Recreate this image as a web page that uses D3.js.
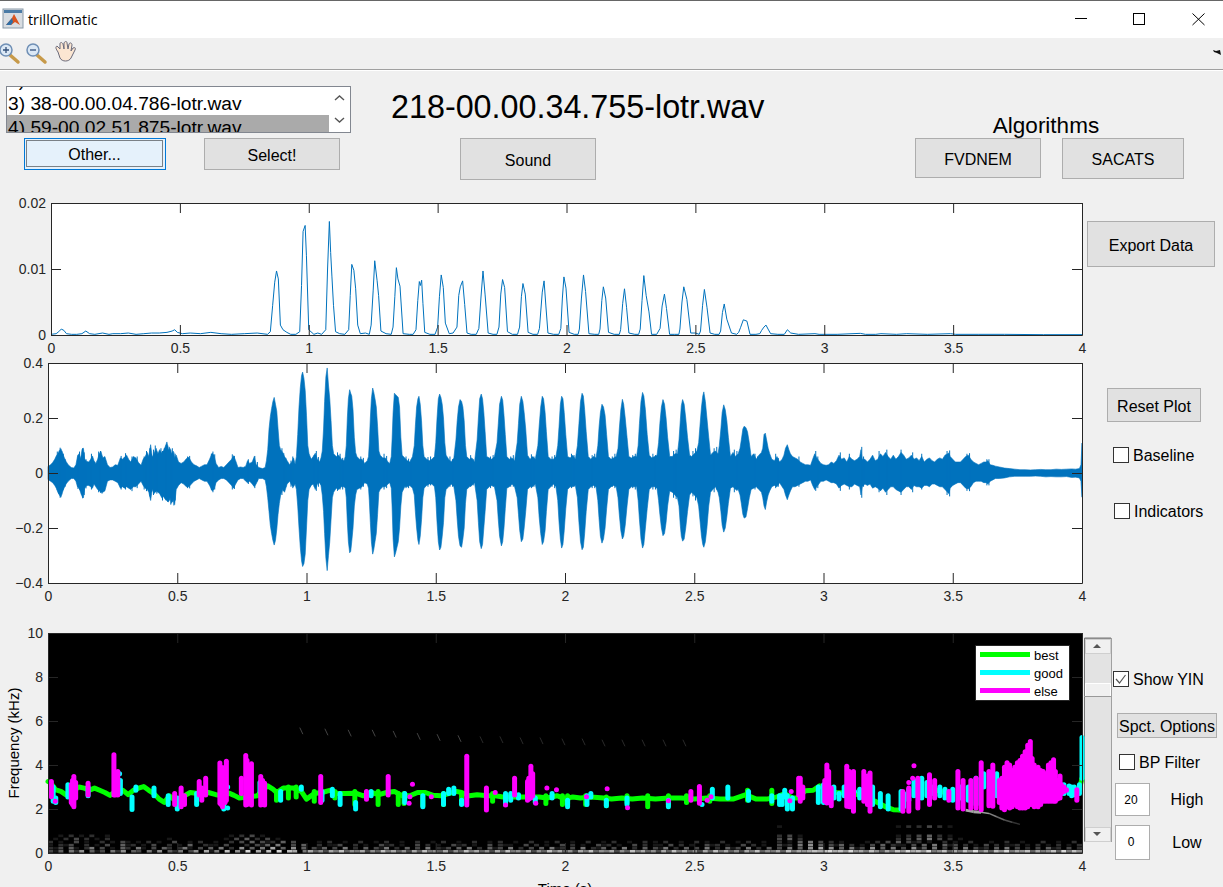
<!DOCTYPE html>
<html>
<head>
<meta charset="utf-8">
<title>trillOmatic</title>
<script src="https://cdnjs.cloudflare.com/ajax/libs/d3/7.8.5/d3.min.js"></script>
<style>
html, body { margin: 0; padding: 0; background: #f0f0f0; overflow: hidden; }
text { font-family: "Liberation Sans", Arial, sans-serif; fill: #000; }
.axis text { fill: #262626; font-family: "Liberation Sans", Arial, sans-serif; font-size: 14px; }
.axis path, .axis line { stroke: #262626; stroke-width: 1; }
</style>
</head>
<body>
<script>
// --- values ---

var timeTicks = [0, 0.5, 1, 1.5, 2, 2.5, 3, 3.5, 4];
var energyTicks = [0, 0.01, 0.02];
var waveTicks = [-0.4, -0.2, 0, 0.2, 0.4];
var freqTicks = [0, 2, 4, 6, 8, 10];

// top panel: signal energy
var energyT = [
  0, .02, .03, .04, .05, .06, .08, .1, .12, .135, .15, .17, .2, .225, .24, .27, .3, .33, .36, .39, .42, .45, .47, .48, .49, .51, .54, .58, .62, .66, .7, .75, .8, .84,
  .851, .86, .868, .875, .882, .89, .9, .915, .93, .95,
  .965, .972, .978, .986, .991, 1, 1.02, 1.035, 1.05,
  1.066, 1.073, 1.08, 1.085, 1.09, 1.096, 1.104, 1.12, 1.14,
  1.155, 1.161, 1.167, 1.175, 1.182, 1.19, 1.2, 1.22, 1.235,
  1.242, 1.25, 1.256, 1.265, 1.271, 1.28, 1.3, 1.32,
  1.327, 1.334, 1.34, 1.346, 1.354, 1.366, 1.39, 1.405,
  1.416, 1.423, 1.429, 1.433, 1.438, 1.443, 1.45, 1.47, 1.49,
  1.5, 1.507, 1.514, 1.522, 1.53, 1.545, 1.56,
  1.575, 1.582, 1.588, 1.597, 1.605, 1.614, 1.63, 1.65,
  1.66, 1.668, 1.676, 1.684, 1.696, 1.715, 1.73,
  1.738, 1.745, 1.752, 1.76, 1.771, 1.79, 1.81,
  1.818, 1.825, 1.831, 1.84, 1.851, 1.87, 1.888,
  1.895, 1.906, 1.913, 1.92, 1.928, 1.95, 1.97,
  1.978, 1.984, 1.99, 1.998, 2.01, 2.03, 2.045,
  2.05, 2.058, 2.066, 2.074, 2.087, 2.11, 2.125,
  2.13, 2.137, 2.143, 2.152, 2.163, 2.185, 2.205,
  2.21, 2.218, 2.225, 2.233, 2.242, 2.265, 2.28,
  2.286, 2.293, 2.3, 2.309, 2.32, 2.33, 2.35,
  2.363, 2.371, 2.38, 2.388, 2.4, 2.42, 2.436,
  2.44, 2.448, 2.455, 2.467, 2.482, 2.5, 2.515,
  2.52, 2.528, 2.535, 2.545, 2.557, 2.575, 2.592,
  2.598, 2.605, 2.612, 2.622, 2.64, 2.66, 2.668,
  2.675, 2.686, 2.7, 2.712, 2.735, 2.75,
  2.757, 2.766, 2.774, 2.782, 2.792, 2.82, 2.845,
  2.857, 2.87, 2.9, 2.964, 2.98, 3.05, 3.14, 3.16, 3.2, 3.22, 3.28, 3.32, 3.4, 3.49, 3.51, 3.6, 3.7, 3.85, 4
];
var energyV = [
  .0001, .0002, .0005, .0009, .0007, .0002, .0001, .0001, .0002, .0006, .0002, .0001, .0003, .0001, .0002, .0002, .0003, .0001, .0002, .0003, .0003, .0004, .0006, .0008, .0004, .0002, .0003, .0002, .0004, .0002, .0001, .0002, .0003, .0001,
  .0005, .0045, .008, .0097, .0085, .0015, .0008, .0004, .0001, .0001,
  .0005, .0075, .0157, .0166, .012, .0008, .0001, .0003, .0001,
  .0008, .01, .0172, .0125, .0088, .0045, .0005, .0002, .0001,
  .0008, .006, .0107, .0098, .007, .0015, .0002, .0003, .0001,
  .0015, .0068, .01125, .0083, .0060, .0006, .0002, .0001,
  .0012, .0058, .0102, .0085, .0074, .0002, .0001, .0001,
  .0008, .0052, .0081, .0075, .0083, .0048, .0004, .0001, .0001,
  .0012, .0058, .0091, .0072, .0018, .0002, .0003,
  .0012, .0060, .0073, .0082, .0046, .0003, .0001, .0001,
  .001, .0056, .0097, .0062, .0003, .0001, .0001,
  .0012, .0062, .0084, .0072, .0005, .0001, .0001,
  .0012, .0058, .0078, .0062, .0004, .0001, .0001,
  .001, .0065, .0082, .0044, .0003, .0001, .0001,
  .001, .0056, .0088, .0071, .0004, .0001, .0001,
  .0009, .0056, .0091, .0066, .0002, .0001, .0001,
  .0009, .0052, .0073, .0056, .0004, .0001, .0001,
  .0008, .0048, .007, .0042, .0003, .0001, .0001,
  .0009, .0052, .009, .006, .0035, .0001, .0001,
  .001, .0044, .0062, .004, .0001, .0001, .0001,
  .0009, .005, .0073, .0054, .0003, .0003, .0001,
  .0006, .0045, .0069, .0042, .0003, .0001, .0001,
  .0006, .0034, .0047, .0024, .0003, .0001, .0004,
  .0011, .0023, .0021, .0001, .0001, .0002,
  .0007, .0012, .0015, .0009, .0002, .0001, .0001,
  .0008, .0003, .0001, .0002, .0001, .0001, .00025, .0001, .0001, .0002, .0001, .0002, .0001, .0002, .0001, .0001, .0001, .00005, .00005
];

// middle panel: waveform envelope, same row layout in all three lists
var waveT = [
  0, .01, .018, .026, .032, .038, .044, .05, .056, .062,
  .07, .078, .09, .1, .108, .114, .12, .126, .132, .137,
  .142, .15, .158, .165, .172, .178, .185, .192, .199, .205,
  .212, .22, .23, .24, .25, .26, .27, .28, .288, .296,
  .304, .312, .32, .33, .34, .35, .36, .368, .376, .384,
  .39, .397, .403, .41, .418, .425, .432, .44, .447, .453,
  .46, .466, .472, .478, .484, .49, .496, .505, .515, .525,
  .535, .545, .555, .565, .575, .585, .595, .605, .615, .625,
  .635, .642, .65, .66, .67, .68, .69, .7, .71, .718,
  .726, .735, .745, .755, .765, .772, .78, .79, .798, .805,
  .815, .83, .84,
  .845, .85, .855, .86, .865, .87, .875, .88, .885, .89, .895, .9,
  .908, .915, .925, .935, .943, .95, .956,
  .961, .966, .971, .976, .981, .985, .99, .995, 1, 1.005, 1.01,
  1.018, 1.026, 1.034, 1.042, 1.05, 1.056,
  1.061, 1.066, 1.07, 1.075, 1.08, 1.085, 1.09, 1.095, 1.1, 1.105,
  1.115, 1.125, 1.135, 1.145, 1.15,
  1.154, 1.158, 1.162, 1.167, 1.171, 1.175, 1.18, 1.185, 1.19, 1.195,
  1.205, 1.215, 1.225, 1.235, 1.24,
  1.243, 1.247, 1.251, 1.256, 1.26, 1.265, 1.27, 1.275, 1.28, 1.285,
  1.295, 1.305, 1.315, 1.322, 1.328,
  1.331, 1.335, 1.34, 1.345, 1.35, 1.355, 1.36, 1.365, 1.37,
  1.38, 1.39, 1.4, 1.41,
  1.417, 1.421, 1.426, 1.431, 1.435, 1.44, 1.445, 1.45, 1.455,
  1.465, 1.475, 1.485, 1.495,
  1.5, 1.505, 1.51, 1.515, 1.52, 1.525, 1.53, 1.535, 1.54,
  1.55, 1.56, 1.57,
  1.578, 1.583, 1.588, 1.594, 1.6, 1.605, 1.61, 1.615, 1.62,
  1.63, 1.64, 1.65,
  1.66, 1.665, 1.67, 1.676, 1.681, 1.686, 1.691, 1.697,
  1.707, 1.717, 1.727,
  1.737, 1.742, 1.747, 1.754, 1.759, 1.764, 1.769, 1.775,
  1.785, 1.795, 1.805,
  1.815, 1.82, 1.825, 1.831, 1.837, 1.842, 1.848, 1.855,
  1.865, 1.875, 1.885,
  1.895, 1.9, 1.906, 1.912, 1.917, 1.923, 1.928, 1.935,
  1.945, 1.955, 1.965,
  1.972, 1.977, 1.982, 1.987, 1.992, 1.997, 2.003, 2.01,
  2.02, 2.03, 2.04,
  2.048, 2.054, 2.06, 2.066, 2.071, 2.076, 2.082, 2.09,
  2.1, 2.11, 2.12,
  2.127, 2.132, 2.137, 2.143, 2.149, 2.155, 2.161, 2.168,
  2.178, 2.188, 2.198,
  2.205, 2.21, 2.216, 2.222, 2.227, 2.233, 2.24, 2.247,
  2.257, 2.267, 2.277,
  2.283, 2.288, 2.294, 2.3, 2.305, 2.311, 2.318, 2.326,
  2.336, 2.346, 2.356,
  2.362, 2.367, 2.373, 2.379, 2.385, 2.391, 2.397, 2.405,
  2.415, 2.425, 2.435,
  2.441, 2.446, 2.45, 2.455, 2.461, 2.467, 2.474, 2.482,
  2.49, 2.5, 2.51,
  2.517, 2.522, 2.528, 2.533, 2.537, 2.543, 2.549, 2.556, 2.563,
  2.572, 2.582, 2.592,
  2.597, 2.603, 2.608, 2.614, 2.62, 2.626, 2.632, 2.64,
  2.65, 2.66, 2.67,
  2.677, 2.682, 2.688, 2.693, 2.7, 2.706, 2.713, 2.72,
  2.73, 2.74, 2.75,
  2.76, 2.765, 2.77, 2.775, 2.78, 2.786, 2.792, 2.8,
  2.81, 2.82, 2.83, 2.84,
  2.847, 2.853, 2.86, 2.866, 2.872, 2.88, 2.89, 2.9, 2.91, 2.92, 2.93, 2.94, 2.95,
  2.958, 2.966, 2.974, 2.982, 2.99, 3, 3.01, 3.02, 3.03, 3.04,
  3.05, 3.06, 3.07, 3.08, 3.09, 3.1, 3.11, 3.12, 3.13, 3.14,
  3.145, 3.15, 3.16, 3.17, 3.18, 3.19, 3.2, 3.21, 3.22, 3.23,
  3.24, 3.25, 3.26, 3.27, 3.28, 3.29, 3.3, 3.31, 3.32, 3.33,
  3.34, 3.35, 3.36, 3.37, 3.38, 3.39, 3.4, 3.41, 3.42, 3.43,
  3.44, 3.45, 3.46, 3.47, 3.48, 3.485, 3.49, 3.5, 3.51, 3.52,
  3.53, 3.54, 3.55, 3.56, 3.57, 3.58, 3.59, 3.6, 3.61, 3.62,
  3.63, 3.636, 3.645, 3.655, 3.665, 3.68, 3.7, 3.72, 3.74, 3.76,
  3.78, 3.8, 3.82, 3.84, 3.86, 3.88, 3.9, 3.92, 3.94, 3.96,
  3.975, 3.99, 3.996, 4
];
var waveUp = [
  .024, .03, .038, .05, .062, .07, .082, .088, .075, .058,
  .042, .03, .02, .018, .03, .06, .07, .052, .087, .09,
  .05, .042, .04, .05, .062, .045, .035, .05, .072, .078,
  .055, .06, .03, .02, .022, .03, .028, .055, .05, .058,
  .065, .05, .04, .06, .055, .038, .028, .05, .06, .075,
  .06, .103, .058, .07, .09, .07, .085, .072, .082, .095,
  .113, .085, .09, .07, .08, .055, .065, .04, .035, .04,
  .052, .057, .04, .03, .026, .02, .025, .03, .03, .05,
  .072, .065, .035, .02, .024, .02, .03, .04, .05, .063,
  .045, .02, .022, .02, .025, .045, .035, .04, .06, .032,
  .02, .016, .02,
  .045, .085, .16, .205, .235, .26, .275, .25, .225, .16, .1, .085,
  .075, .06, .045, .03, .04, .055, .032,
  .06, .14, .24, .31, .355, .367, .345, .3, .21, .1, .07,
  .05, .06, .072, .05, .04, .055,
  .08, .16, .26, .35, .382, .32, .27, .19, .1, .07,
  .06, .065, .05, .045, .06,
  .1, .2, .27, .303, .29, .28, .23, .13, .075, .06,
  .05, .05, .035, .045, .06,
  .11, .2, .27, .309, .295, .27, .24, .17, .08, .065,
  .055, .055, .04, .035, .06,
  .12, .22, .29, .285, .28, .275, .24, .13, .065,
  .055, .045, .04, .06,
  .1, .17, .24, .27, .279, .25, .19, .1, .06,
  .05, .045, .05, .06,
  .11, .2, .27, .287, .275, .25, .2, .11, .065,
  .05, .04, .055,
  .12, .19, .24, .267, .26, .24, .19, .1, .06,
  .05, .055, .04,
  .12, .2, .27, .287, .27, .22, .15, .06,
  .055, .05, .06,
  .11, .18, .25, .279, .265, .21, .14, .06,
  .05, .055, .045,
  .11, .18, .25, .279, .26, .22, .16, .065,
  .05, .06, .05,
  .1, .17, .24, .279, .27, .22, .15, .06,
  .05, .05, .06,
  .1, .17, .25, .279, .27, .22, .14, .06,
  .055, .065, .05,
  .1, .18, .26, .29, .28, .23, .15, .06,
  .05, .06, .055,
  .1, .17, .22, .25, .24, .21, .14, .06,
  .05, .055, .06,
  .09, .16, .23, .268, .25, .2, .13, .06,
  .055, .06, .06,
  .1, .18, .26, .293, .28, .23, .14, .065,
  .055, .06, .065,
  .11, .18, .24, .267, .25, .2, .13, .06,
  .06, .07, .07,
  .12, .19, .245, .267, .25, .2, .13, .065,
  .06, .07, .08,
  .11, .17, .24, .28, .295, .26, .2, .13, .065,
  .075, .08, .07,
  .1, .16, .22, .248, .23, .19, .13, .06,
  .075, .06, .07,
  .09, .12, .16, .17, .165, .15, .11, .06,
  .07, .05, .065,
  .075, .09, .14, .145, .12, .09, .07, .05,
  .045, .06, .04, .05,
  .065, .09, .103, .085, .07, .06, .055, .05, .04, .035, .03, .03, .028,
  .05, .07, .055, .045, .035, .03, .028, .03, .04, .035,
  .045, .065, .05, .055, .04, .06, .05, .045, .05, .06,
  .085, .05, .05, .04, .05, .065, .045, .05, .07, .06,
  .075, .06, .05, .065, .05, .06, .075, .065, .05, .055,
  .065, .05, .055, .045, .06, .04, .05, .055, .045, .04,
  .05, .055, .05, .065, .07, .073, .06, .05, .04, .04,
  .04, .05, .06, .065, .05, .04, .035, .03, .035, .04,
  .04, .045, .03, .028, .025, .022, .018, .016, .014, .012,
  .012, .011, .012, .013, .012, .012, .014, .013, .014, .015,
  .014, .016, .03, .109
];
var waveDepth = [
  .024, .03, .035, .045, .055, .07, .08, .088, .07, .055,
  .04, .03, .02, .02, .03, .05, .055, .07, .085, .09,
  .055, .045, .045, .05, .055, .04, .05, .06, .065, .07,
  .07, .065, .03, .025, .025, .03, .035, .055, .05, .055,
  .05, .055, .06, .05, .05, .04, .03, .045, .055, .06,
  .07, .1, .06, .075, .065, .07, .075, .09, .085, .095,
  .1, .105, .09, .11, .095, .115, .06, .045, .035, .04,
  .05, .05, .04, .03, .025, .02, .025, .03, .03, .045,
  .065, .06, .035, .025, .02, .02, .025, .035, .045, .055,
  .04, .025, .02, .02, .03, .035, .03, .04, .05, .04,
  .02, .02, .025,
  .05, .09, .14, .19, .22, .245, .262, .245, .205, .15, .11, .08,
  .06, .07, .04, .03, .045, .05, .04,
  .06, .12, .2, .27, .32, .34, .33, .295, .2, .1, .06,
  .045, .04, .06, .04, .035, .045,
  .08, .14, .22, .31, .355, .3, .25, .17, .09, .07,
  .055, .06, .05, .05, .055,
  .09, .18, .25, .29, .285, .25, .2, .12, .08, .06,
  .055, .05, .035, .04, .055,
  .1, .18, .25, .295, .28, .25, .22, .15, .07, .06,
  .05, .05, .04, .035, .055,
  .12, .24, .305, .29, .27, .25, .2, .12, .07,
  .05, .05, .045, .055,
  .08, .14, .2, .245, .26, .23, .17, .09, .055,
  .045, .04, .04, .05,
  .09, .18, .25, .28, .27, .23, .18, .09, .06,
  .05, .04, .05,
  .1, .17, .23, .265, .27, .24, .2, .11, .06,
  .05, .045, .035,
  .1, .18, .25, .275, .26, .2, .14, .06,
  .05, .045, .05,
  .1, .17, .23, .265, .25, .2, .13, .055,
  .05, .04, .05,
  .09, .15, .21, .25, .24, .2, .14, .06,
  .05, .05, .04,
  .09, .16, .22, .26, .25, .21, .14, .06,
  .05, .04, .05,
  .1, .18, .24, .273, .26, .21, .13, .06,
  .05, .05, .045,
  .09, .18, .25, .279, .27, .22, .14, .06,
  .05, .045, .05,
  .1, .17, .23, .255, .24, .2, .13, .06,
  .05, .045, .05,
  .09, .15, .21, .24, .23, .19, .12, .06,
  .05, .05, .05,
  .1, .17, .24, .273, .26, .2, .13, .06,
  .05, .05, .055,
  .1, .15, .2, .228, .22, .18, .12, .065,
  .07, .08, .09,
  .12, .19, .23, .248, .24, .2, .14, .08,
  .07, .08, .09,
  .12, .17, .23, .26, .27, .25, .2, .12, .07,
  .06, .05, .07,
  .09, .14, .19, .215, .2, .16, .11, .055,
  .05, .06, .06,
  .08, .11, .15, .164, .16, .13, .09, .06,
  .055, .05, .06,
  .07, .09, .12, .133, .105, .08, .065, .05,
  .045, .05, .035, .05,
  .06, .08, .097, .08, .065, .05, .05, .045, .04, .035, .03, .03, .025,
  .045, .06, .05, .04, .03, .03, .025, .03, .035, .035,
  .04, .055, .045, .04, .045, .05, .05, .04, .045, .05,
  .08, .05, .04, .045, .04, .055, .05, .055, .065, .055,
  .07, .06, .05, .05, .06, .065, .07, .06, .05, .05,
  .06, .045, .05, .05, .055, .045, .045, .05, .04, .04,
  .045, .05, .05, .06, .07, .075, .055, .045, .04, .035,
  .035, .045, .055, .058, .05, .035, .03, .03, .03, .035,
  .035, .04, .03, .025, .02, .02, .018, .014, .012, .012,
  .012, .012, .011, .012, .014, .013, .014, .014, .013, .016,
  .015, .018, .03, .088
];

// short spikes that stick out of the envelope
var spikeT = [
  .02, .036, .041, .047, .053, .059, .066, .116, .122, .129,
  .134, .14, .147, .168, .196, .203, .209, .283, .3, .325,
  .345, .372, .381, .394, .4, .408, .415, .421, .437, .443,
  .45, .457, .463, .469, .475, .481, .487, .492, .54, .548,
  .632, .638, .645, .713, .721, .775, .795, .8, .81, .905,
  .912, .92, .94, .947, 1.015, 1.03, 1.038, 1.046, 1.12, 1.13,
  1.14, 1.21, 1.22, 1.3, 1.31, 1.385, 1.395, 1.405, 1.47, 1.48,
  1.555, 1.565, 1.635, 1.645, 1.712, 1.722, 1.79, 1.8, 1.87, 1.88,
  1.95, 1.96, 2.025, 2.035, 2.105, 2.115, 2.183, 2.193, 2.262, 2.272,
  2.34, 2.35, 2.42, 2.43, 2.495, 2.505, 2.577, 2.587, 2.655, 2.665,
  2.735, 2.745, 2.815, 2.825, 2.905, 2.97, 2.978, 3.065, 3.1, 3.148,
  3.155, 3.215, 3.245, 3.3, 3.345, 3.38, 3.478, 3.488, 3.555, 3.565,
  3.632, 3.64
];
var spikeUp = [
  .036, .078, .072, .092, .08, .07, .05, .066, .078, .062,
  .09, .075, .05, .07, .078, .08, .06, .062, .072, .06,
  .06, .06, .08, .09, .07, .085, .1, .078, .09, .08,
  .09, .1, .1, .095, .085, .09, .075, .07, .06, .062,
  .07, .078, .068, .068, .062, .05, .05, .062, .04, .09,
  .072, .055, .045, .06, .055, .065, .08, .058, .075, .07,
  .055, .06, .055, .07, .062, .06, .052, .05, .058, .06,
  .06, .05, .065, .05, .06, .065, .06, .065, .068, .06,
  .06, .065, .07, .065, .065, .07, .06, .07, .065, .07,
  .07, .065, .08, .085, .08, .09, .09, .095, .085, .08,
  .07, .06, .07, .055, .06, .08, .06, .075, .07, .095,
  .06, .08, .085, .085, .075, .07, .08, .082, .07, .072,
  .05, .05
];
var spikeDepth = [
  .03, .062, .075, .09, .078, .06, .05, .058, .06, .078,
  .092, .08, .056, .06, .07, .072, .075, .06, .06, .066,
  .055, .06, .066, .085, .07, .08, .07, .075, .08, .1,
  .09, .1, .105, .1, .115, .105, .118, .1, .055, .056,
  .062, .07, .06, .06, .058, .04, .045, .055, .03, .08,
  .065, .05, .05, .055, .05, .05, .065, .05, .065, .06,
  .06, .06, .05, .06, .055, .055, .055, .05, .05, .045,
  .05, .05, .05, .045, .055, .05, .05, .05, .055, .05,
  .05, .055, .055, .05, .055, .055, .05, .055, .055, .06,
  .06, .06, .09, .095, .085, .1, .07, .06, .07, .065,
  .06, .055, .055, .05, .05, .065, .055, .065, .06, .09,
  .05, .07, .08, .08, .07, .06, .08, .085, .065, .066,
  .045, .045
];

// bottom panel: low-frequency spectrogram, one digit per cell (0 = black, 9 = brightest)
var specFreqs = [0.08, 0.22, 0.36, 0.5, 0.64, 0.78, 1.2];
var specRows = [
  "3140526041305260430516042503607150806190718090870" + "57463758465736485746374856473648574637485647364857" + "46375846573648574637485746374857463758465748576787" + "89786967586475869786956847586957486957684756849586",
  "21304102503010420510304202510304050206040507040604" + "03140305020403150204030502130405020413050203040512" + "03050214030502040315020403050204130502040305040607" + "06040513060405030614050304050312040503020304120302",
  "10213002010300412010300201040021103000203140500304" + "00201130020100312010030201003120100302110030201003" + "02010031201003020110302010031201003020100312050604" + "03140201030402110304050413020103020112010201020102",
  "20100301002010310102010030010200100203040312040300" + "00102001002001020010020010200100200102001002001020" + "01002001020010020102001002010020010200100201040503" + "02010000102030403120100201002000100200100020010020",
  "01020302010200000000000100000000001030402030100000" + "00000000000000000000000000000000000000000000000000" + "00000000000000000000000000000000000000000304020000" + "00000000000000203040503020100000000000000000000000",
  "00102010200100000000000000000000000102030100000000" + "00000000000000000000000000000000000000000000000000" + "00000000000000000000000000000000000000000203010000" + "00000000000000102030402010000000000000000000000000",
  "00000000000000000000000000000000000000000000000000" + "00000000000000000000000000000000000000000000000000" + "00000000000000000000000000000000000000000100000000" + "00000000000000102020302010000000000000000000000000"
];

// faint harmonic ticks above the track
var harmT = [.974, 1.071, 1.161, 1.254, 1.335, 1.428, 1.505, 1.586, 1.671, 1.748, 1.826, 1.903, 1.988, 2.066, 2.143, 2.22, 2.298, 2.379, 2.456];
var harmF = [5.55, 5.5, 5.45, 5.45, 5.4, 5.3, 5.25, 5.2, 5.15, 5.15, 5.1, 5.1, 5.05, 5.05, 5, 5, 5, 5, 5];

// gray trace under the track at the end of the call
var traceT = [3.27, 3.31, 3.55, 3.58, 3.61, 3.64, 3.67, 3.7, 3.73, 3.76];
var traceF = [1.95, 1.9, 1.95, 1.88, 1.85, 1.8, 1.65, 1.5, 1.4, 1.3];
var traceLevel = [.5, 0, .65, .65, .6, .5, .4, .3, .2, .12];

// pitch track, best estimate (null breaks the line)
var bestT = [0, .01, .03, .05, .07, .085, .1, .12, .14, .16, .18, .2, .22, .24, .26, .29, .31, .33, .35, .37, .39, .41, .43, .45, .47, .49, .52, .55, .58, .62, .65, .68, .7, .72, .74, .77, .81, .83, .85, .87, .885, .91, .95, .98, 1, 1.03, 1.06, 1.09, 1.12, 1.15, 1.19, 1.22, 1.25, 1.28, 1.31, 1.34, 1.37, 1.4, 1.43, 1.46, 1.49, 1.52, 1.55, 1.58, 1.6, 1.63, 1.66, 1.7, 1.73, 1.76, 1.8, 1.85, 1.9, 1.93, 1.97, 2, 2.03, 2.06, 2.1, 2.15, 2.18, 2.22, 2.26, 2.3, 2.35, 2.4, 2.45, 2.5, 2.55, 2.6, 2.65, 2.7, 2.74, 2.78, 2.82, 2.85, 2.88, 2.9, 2.93, 2.96, 2.985, 3.02, 3.05, 3.1, 3.14, 3.2, 3.24, 3.27, 3.3, null, 3.44, 3.47, null, 3.99, 4];
var bestF = [3.25, 3.2, 2.87, 2.8, 2.64, 2.7, 2.85, 3, 2.95, 2.85, 2.95, 2.85, 2.75, 2.62, 2.8, 2.85, 2.65, 2.85, 2.95, 3.02, 2.85, 2.7, 2.45, 2.3, 2.6, 2.4, 2.55, 2.75, 2.7, 2.75, 2.65, 2.6, 2.72, 2.62, 2.5, 2.55, 2.6, 2.85, 3.05, 2.9, 2.75, 2.95, 2.95, 2.8, 2.45, 2.7, 2.75, 2.85, 2.7, 2.7, 2.72, 2.6, 2.75, 2.65, 2.75, 2.8, 2.6, 2.6, 2.75, 2.75, 2.62, 2.6, 2.7, 2.8, 2.75, 2.6, 2.65, 2.6, 2.6, 2.55, 2.55, 2.55, 2.55, 2.5, 2.6, 2.45, 2.55, 2.5, 2.55, 2.5, 2.45, 2.5, 2.45, 2.5, 2.45, 2.5, 2.5, 2.45, 2.5, 2.45, 2.45, 2.65, 2.45, 2.45, 2.55, 2.7, 2.5, 2.5, 2.83, 2.85, 3.05, 2.8, 2.75, 2.7, 2.65, 2.35, 2.1, 1.97, 1.95, null, 2.85, 2.75, null, 2.9, 3.4];

// pitch dips that stay in the best class
var dipT = [.884, .93, .96, 1.03, 1.11, 1.187, 1.277, 1.355, 1.377, 1.45, 1.53, 1.6, 1.72, 1.926, 1.99, 2.01, 2.08, 2.16, 2.24, 2.32, 2.4, 2.47, 2.56, 2.706, 2.8];
var dipLow = [2.4, 2.5, 2.55, 2.35, 2.5, 2.2, 2.2, 2.2, 2.25, 2.15, 2.2, 2.25, 2.35, 2.25, 2.2, 2.25, 2.2, 2.15, 2.3, 2.1, 2.2, 2.3, 2.35, 2.4, 2.25];
var dipHigh = [2.8, 3, 3, 2.8, 2.8, 2.8, 2.8, 2.7, 2.7, 2.7, 2.7, 2.7, 2.7, 2.6, 2.6, 2.6, 2.6, 2.55, 2.6, 2.6, 2.6, 2.6, 2.6, 2.85, 2.85];

// second class: each entry spans low..high at one time
var goodT = [.02, .03, .077, .09, .155, .28, .277, .325, .34, .41, .465, .5, .575, .68, .695, .695, .82, .9, .98, 1.06, 1.1, 1.13, 1.19, 1.25, 1.38, 1.45, 1.53, 1.55, 1.57, 1.6, 1.77, 1.79, 1.82, 1.885, 1.95, 2.01, 2.085, 2.1, 2.16, 2.24, 2.4, 2.53, 2.57, 2.63, 2.71, 2.8, 2.84, 2.85, 2.86, 2.88, 2.83, 2.98, 3, 3.04, 3.06, 3.08, 3.12, 3.14, 3.16, 3.19, 3.22, 3.25, 3.3, 3.31, 3.33, 3.35, 3.38, 3.4, 3.42, 3.45, 3.47, 3.5, 3.53, 3.56, 3.59, 3.62, 3.65, 3.67, 3.7, 3.72, 3.75, 3.8, 3.85, 3.88, 3.9, 3.93, 3.95, 3.96, 3.97, 3.99, 4];
var goodLow = [2.35, 2.3, 2.55, 2.6, 2.6, 2.7, 3.6, 1.98, 2.85, 2.6, 2.2, 2, 2.2, 2, 2.05, 3, 2.8, 2.4, 2.9, 2.4, 2.6, 2.2, 2, 2.6, 2.3, 2.1, 2.2, 2.7, 2.7, 2.2, 2.2, 2.4, 2.5, 2.3, 2.5, 2.1, 2.2, 2.55, 2.15, 2.2, 2.1, 2.2, 2.5, 2.5, 2.4, 2.35, 2.2, 2.55, 2, 2, 2.2, 2.3, 2.3, 2.5, 2.45, 2.6, 2.8, 2.5, 2.4, 2.2, 2.1, 2, 2, 2.1, 2.4, 2.6, 2.5, 2.6, 2.7, 2.6, 2.5, 2.4, 2.5, 2.4, 2.2, 3, 2.8, 2.6, 2.6, 2.7, 2.6, 2.8, 2.9, 2.9, 2.6, 2.7, 2.7, 2.6, 2.65, 2.7, 3.4];
var goodHigh = [3, 2.5, 3.1, 3.1, 3, 3.3, 3.6, 2.55, 3, 2.95, 2.6, 2.5, 2.7, 2.9, 2.05, 3, 3.2, 2.8, 3, 2.8, 2.9, 2.7, 2.3, 2.8, 2.7, 2.6, 2.7, 2.9, 2.95, 2.4, 2.7, 2.7, 2.65, 2.5, 2.7, 2.4, 2.6, 2.7, 2.4, 2.5, 2.4, 2.2, 2.9, 3, 2.8, 2.6, 2.6, 2.85, 2.6, 2.5, 2.6, 3, 3.1, 3, 2.7, 3, 2.8, 2.9, 3, 3, 2.7, 2.6, 2.8, 2.7, 2.9, 3.3, 3.4, 3.2, 3, 3, 2.9, 2.9, 3, 3, 3.4, 3.6, 3.5, 3.6, 3.4, 3.4, 3.4, 3.4, 3.5, 3.5, 3.2, 3.1, 3.05, 3, 3, 3.1, 5.25];

// everything else
var elseT = [.013, .028, .09, .095, .1, .107, .155, .255, .26, .27, .49, .515, .528, .585, .595, .61, .665, .67, .675, .685, .69, .748, .765, .77, .78, .787, .823, .83, .838, 1.055, 1.232, 1.316, 1.397, 1.4, 1.41, 1.483, 1.62, 1.696, 1.73, 1.77, 1.805, 1.855, 1.86, 1.868, 1.875, 1.887, 1.93, 1.967, 2.083, 2.163, 2.242, 2.4, 2.487, 2.52, 2.55, 2.565, 2.875, 2.87, 2.904, 2.91, 2.92, 3.005, 3.013, 3.02, 3.03, 3.09, 3.096, 3.1, 3.105, 3.116, 3.156, 3.17, 3.18,
  3.307, 3.33, 3.35, 3.345, 3.33, 3.365, 3.41, 3.43, 3.485, 3.52, 3.54, 3.57, 3.59, 3.61, 3.64, 3.655,
  3.68, 3.69, 3.7, 3.71, 3.72, 3.73, 3.74, 3.75, 3.76, 3.77, 3.78, 3.79, 3.8, 3.807, 3.815, 3.83, 3.84, 3.85, 3.86, 3.87, 3.88, 3.89, 3.897, 3.905, 3.915, 3.92, 3.93, 3.94, 3.98];
var elseLow = [2.56, 2.35, 2.3, 2.2, 2.1, 2.5, 2.64, 2.64, 2.64, 2.64, 2.2, 2.1, 2.2, 2.64, 2.4, 2.64, 2.26, 2.2, 2.1, 2.3, 2.4, 2.7, 2.18, 2.2, 2.3, 2.18, 2.18, 2.2, 2.18, 2.3, 2.44, 2.64, 2.26, 2.56, 3.13, 2.56, 2.18, 1.95, 2.75, 2.18, 2.64, 2.4, 2.45, 2.5, 2.6, 2.26, 2.95, 2.87, 2.56, 2.92, 2.06, 2.37, 2.4, 2.26, 2.4, 2.56, 2.8, 2.37, 2.64, 2.35, 2.5, 2.35, 2.27, 2.3, 2.15, 2.12, 2.3, 2.1, 2.1, 1.9, 2.35, 2.2, 1.9,
  1.9, 1.9, 3.97, 3.4, 3.2, 2.05, 2.2, 2.5, 2.4, 2.05, 2, 2.05, 2.05, 1.97, 2.15, 2.12,
  2.3, 2.05, 1.97, 2.1, 2.05, 2.1, 2.2, 2.1, 2.05, 2.05, 2.05, 2.1, 2.2, 2.2, 2.1, 2.1, 2.2, 2.35, 2.35, 2.35, 2.35, 2.35, 2.35, 2.45, 2.5, 2.7, 2.8, 2.85, 2.4];
var elseHigh = [3.25, 2.35, 3.1, 3.3, 3.48, 3.2, 3.17, 4.47, 3.6, 3.7, 2.7, 2.95, 2.6, 3.25, 2.95, 3.4, 4.09, 3.9, 3.5, 3.9, 4.17, 3.4, 4.43, 4.2, 3.8, 4.06, 3.48, 3.3, 3.17, 3.48, 2.8, 3.48, 2.26, 2.56, 3.13, 2.56, 4.4, 2.95, 2.75, 2.18, 3.4, 3.25, 3.4, 3.94, 3.6, 2.26, 2.95, 2.87, 2.56, 2.92, 2.06, 2.37, 2.8, 3.02, 2.4, 2.56, 2.8, 2.37, 3.4, 3.4, 3, 3.3, 4, 3.7, 2.95, 3.94, 2.85, 3.7, 3.4, 3.7, 3.7, 3.5, 3.64,
  2.8, 2.95, 3.97, 3.4, 3.2, 3.4, 3.56, 3.3, 2.8, 3.7, 3.3, 3.3, 3.4, 4.1, 3.7, 4,
  3.3, 3.4, 3.9, 4.1, 4, 3.75, 3.9, 4.1, 4.2, 4.4, 4.6, 4.9, 5.07, 4.3, 4, 3.9, 3.75, 3.7, 3.6, 4, 4.1, 4.24, 3.7, 3.3, 3.5, 3.1, 3, 2.88, 2.88];

var legendNames = ["best", "good", "else"];
var legendColors = ["#00ff00", "#00ffff", "#ff00ff"];

// --- layout ---
var width = 1223,
    height = 887;

var svg = d3.select('body').append('svg')
    .attr('width', width)
    .attr('height', height)
    .style('display', 'block');

svg.append('rect').attr('width', width).attr('height', height).attr('fill', '#f0f0f0');

// helpers for the gui widgets around the plots
function box(x, y, w, h, fill, stroke, sw) {
    return svg.append('rect').attr('x', x + .5).attr('y', y + .5).attr('width', w).attr('height', h)
        .attr('fill', fill).attr('stroke', stroke || 'none').attr('stroke-width', sw || 1);
}
function label(x, y, txt, size, anchor) {
    return svg.append('text').attr('x', x).attr('y', y).text(txt)
        .attr('font-size', size).attr('text-anchor', anchor || 'start');
}
function button(x, y, w, h, txt, size) {
    box(x, y, w, h, '#e1e1e1', '#adadad');
    label(x + w / 2 + .5, y + h / 2 + size * .36 + 1.5, txt, size, 'middle');
}
function checkbox(x, y, txt, checked, size) {
    box(x, y, 15, 15, '#fff', '#333');
    if (checked) {
        svg.append('path').attr('d', 'M' + (x + 3) + ' ' + (y + 8) + 'l3.5 4l6 -8')
            .attr('fill', 'none').attr('stroke', '#555').attr('stroke-width', 1.2);
    }
    label(x + 20, y + 14, txt, size || 16);
}

// window chrome
svg.append('rect').attr('width', width).attr('height', 38).attr('fill', '#fff');
svg.append('rect').attr('width', width).attr('height', 1).attr('fill', '#666');
svg.append('rect').attr('x', 3).attr('y', 9).attr('width', 20).attr('height', 19).attr('fill', '#d8dde2').attr('stroke', '#8a9aa8');
svg.append('rect').attr('x', 4).attr('y', 10).attr('width', 18).attr('height', 3).attr('fill', '#4a7ba6');
svg.append('path').attr('d', 'M6 25L12 18L14 14L20 25L15 22L11 25Z').attr('fill', '#d9541e');
svg.append('path').attr('d', 'M6 25L12 18L13 22L11 25Z').attr('fill', '#2d6fa8');
svg.append('text').attr('x', 28).attr('y', 25).text('trillOmatic')
    .style('font-family', '"Open Sans", sans-serif').attr('font-size', 14.3).attr('fill', '#111');
svg.append('path').attr('d', 'M1075 18.5H1087').attr('stroke', '#000').attr('fill', 'none');
svg.append('rect').attr('x', 1133.5).attr('y', 13.5).attr('width', 11).attr('height', 11).attr('fill', 'none').attr('stroke', '#000');
svg.append('path').attr('d', 'M1192.5 13.5L1204.5 25M1204.5 13.5L1192.5 25').attr('stroke', '#000').attr('fill', 'none');

svg.append('rect').attr('y', 69).attr('width', width).attr('height', 1).attr('fill', '#a0a0a0');
svg.append('rect').attr('y', 70).attr('width', width).attr('height', 1).attr('fill', '#fff');

// toolbar icons
function zoomIcon(cx, sign) {
    svg.append('path').attr('d', 'M' + (cx + 4) + ' 55L' + (cx + 12) + ' 62').attr('stroke', '#c79a4a').attr('stroke-width', 3.5).attr('stroke-linecap', 'round');
    svg.append('circle').attr('cx', cx).attr('cy', 50).attr('r', 6).attr('fill', '#dbe8f5').attr('stroke', '#6f8fb5').attr('stroke-width', 1.5);
    svg.append('path').attr('d', 'M' + (cx - 3) + ' 50H' + (cx + 3) + (sign ? 'M' + cx + ' 47V53' : '')).attr('stroke', '#33507a').attr('stroke-width', 1.3);
}
zoomIcon(6, true);
zoomIcon(33, false);
svg.append('path').attr('d', 'M58 52C56 49 55 47 57 46L60 49L60 44C60 42 62 42 63 44L64 49L64 43C65 41 67 41 67 43L68 49L69 44C70 42 72 43 72 45L71 51L73 48C75 47 76 48 75 50L71 58C69 62 62 62 60 58Z')
    .attr('fill', '#fbe6d2').attr('stroke', '#6a6a7a').attr('stroke-width', 1);
svg.append('path').attr('d', 'M1213 50l3 1l4 -1l1 5l-4 -2l-3 -1Z').attr('fill', '#111');

// file list
box(6, 86, 344, 46, '#fff', '#828790');
svg.append('defs').append('clipPath').attr('id', 'listClip').append('rect')
    .attr('x', 7).attr('y', 87).attr('width', 323).attr('height', 45);
var listGroup = svg.append('g').attr('clip-path', 'url(#listClip)');
listGroup.append('rect').attr('x', 7).attr('y', 115).attr('width', 322).attr('height', 17).attr('fill', '#aaaaaa');
listGroup.append('text').attr('x', 8).attr('y', 110).attr('font-size', 19.2).text('3) 38-00.00.04.786-lotr.wav');
listGroup.append('text').attr('x', 8).attr('y', 134).attr('font-size', 19.2).text('4) 59-00.02.51.875-lotr.wav');
listGroup.append('text').attr('x', 8).attr('y', 86).attr('font-size', 19.2).text('2) ');
svg.append('path').attr('d', 'M335 100l4.5 -4l4.5 4M335 118l4.5 4l4.5 -4').attr('fill', 'none').attr('stroke', '#555').attr('stroke-width', 1.4);

box(24, 138, 141, 31, '#e5f1fb', '#0078d7');
svg.append('rect').attr('x', 26.5).attr('y', 140.5).attr('width', 136).attr('height', 26)
    .attr('fill', 'none').attr('stroke', '#111').attr('stroke-dasharray', '1 1');
label(94.5, 160, 'Other...', 16, 'middle');
button(204, 138, 135, 31, 'Select!', 16);
button(460, 138, 135, 41, 'Sound', 16);
button(915, 138, 125, 39, 'FVDNEM', 16);
button(1062, 138, 121, 40, 'SACATS', 16);
button(1087, 221, 127, 45, 'Export Data', 16);
button(1107, 388, 93, 33, 'Reset Plot', 16);
label(391, 118, '218-00.00.34.755-lotr.wav', 32.3);
label(1046, 133, 'Algorithms', 22.5, 'middle');

checkbox(1113, 447, 'Baseline', false);
checkbox(1114, 503, 'Indicators', false);
checkbox(1113, 671, 'Show YIN', true);
checkbox(1119, 754, 'BP Filter', false);
button(1117, 713, 99, 24, 'Spct. Options', 16);
box(1115, 783, 34, 32, '#fff', '#adadad');
label(1131, 804, '20', 12, 'middle');
label(1187, 805, 'High', 16, 'middle');
box(1115, 825, 34, 34, '#fff', '#adadad');
label(1131, 846, '0', 12, 'middle');
label(1187, 848, 'Low', 16, 'middle');

// spectrogram scrollbar
box(1084, 638, 27, 203, '#e3e3e3', '#a0a0a0');
svg.append('path').attr('d', 'M1084.5 841V638H1111').attr('fill', 'none').attr('stroke', '#777');
box(1085, 639, 25, 14, '#f0f0f0', '#cfcfcf');
box(1085, 683, 25, 13, '#f0f0f0', '#fff');
svg.append('rect').attr('x', 1084).attr('y', 696).attr('width', 27).attr('height', 1).attr('fill', '#999');
box(1085, 827, 25, 14, '#f0f0f0', '#cfcfcf');
svg.append('path').attr('d', 'M1093 648l4 -4l4 4Z').attr('fill', '#555');
svg.append('path').attr('d', 'M1093 832l4 4l4 -4Z').attr('fill', '#555');

// --- plots ---
function mirroredAxes(g, x, y, xTicks, yTicks, yFormat, w, h) {
    var xf = d3.format('');
    g.append('g').attr('class', 'axis').attr('transform', 'translate(0,' + h + ')')
        .call(d3.axisBottom(x).tickValues(xTicks).tickFormat(xf).tickSizeInner(-10).tickSizeOuter(0).tickPadding(8));
    g.append('g').attr('class', 'axis')
        .call(d3.axisTop(x).tickValues(xTicks).tickFormat('').tickSizeInner(-10).tickSizeOuter(0));
    g.append('g').attr('class', 'axis')
        .call(d3.axisLeft(y).tickValues(yTicks).tickFormat(yFormat).tickSizeInner(-10).tickSizeOuter(0).tickPadding(5));
    g.append('g').attr('class', 'axis').attr('transform', 'translate(' + w + ',0)')
        .call(d3.axisRight(y).tickValues(yTicks).tickFormat('').tickSizeInner(-10).tickSizeOuter(0));
}

// energy
var eW = 1031, eH = 132;
var eX = d3.scaleLinear().domain([0, 4]).range([0, eW]);
var eY = d3.scaleLinear().domain([0, 0.02]).range([eH, 0]);
var eG = svg.append('g').attr('transform', 'translate(51,203)');
eG.append('rect').attr('width', eW).attr('height', eH).attr('fill', '#fff');
eG.append('path')
    .attr('d', d3.line().x(function (d, i) { return eX(energyT[i]); }).y(function (d) { return eY(d); })(energyV))
    .attr('fill', 'none').attr('stroke', '#0072bd').attr('stroke-width', 1);
mirroredAxes(eG, eX, eY, timeTicks, energyTicks, d3.format(''), eW, eH);

// waveform
var wW = 1034, wH = 220;
var wX = d3.scaleLinear().domain([0, 4]).range([0, wW]);
var wY = d3.scaleLinear().domain([-0.4, 0.4]).range([wH, 0]);
var wG = svg.append('g').attr('transform', 'translate(48,363)');
wG.append('rect').attr('width', wW).attr('height', wH).attr('fill', '#fff');
wG.append('path')
    .attr('d', d3.area()
        .x(function (d) { return wX(d); })
        .y0(function (d, i) { return wY(-waveDepth[i]); })
        .y1(function (d, i) { return wY(waveUp[i]); })(waveT))
    .attr('fill', '#0072bd').attr('stroke', '#0072bd').attr('stroke-width', 0.6);
wG.append('g').selectAll('line').data(spikeT).enter().append('line')
    .attr('x1', function (d) { return wX(d); })
    .attr('x2', function (d) { return wX(d); })
    .attr('y1', function (d, i) { return wY(-spikeDepth[i]); })
    .attr('y2', function (d, i) { return wY(spikeUp[i]); })
    .attr('stroke', '#0072bd').attr('stroke-width', 1);
mirroredAxes(wG, wX, wY, timeTicks, waveTicks, d3.format(''), wW, wH);

// spectrogram with the pitch track on top
var sW = 1034, sH = 220;
var sX = d3.scaleLinear().domain([0, 4]).range([0, sW]);
var sY = d3.scaleLinear().domain([0, 10]).range([sH, 0]);
var gray = d3.scaleLinear().domain([0, 9]).range(['#000000', '#d8d8d8']);
var sG = svg.append('g').attr('transform', 'translate(48,633)');
sG.append('rect').attr('width', sW).attr('height', sH).attr('fill', '#000');

specRows.forEach(function (row, r) {
    var cells = row.split('').map(Number);
    sG.append('g').selectAll('rect').data(cells).enter().append('rect')
        .attr('x', function (d, i) { return sX(4 * i / cells.length); })
        .attr('width', sW / cells.length)
        .attr('y', sY(specFreqs[r] + 0.06))
        .attr('height', sY(0) - sY(0.12))
        .attr('fill', function (d) { return gray(d); });
});

// faint structures in the spectrogram
sG.append('g').selectAll('path').data(harmT).enter().append('path')
    .attr('d', function (d, i) {
        return 'M' + sX(d) + ' ' + sY(harmF[i] + .15) + 'L' + sX(d + .012) + ' ' + sY(harmF[i] - .15);
    })
    .attr('stroke', function (d, i) { return i < 8 ? '#444' : '#2a2a2a'; })
    .attr('stroke-width', 1);
traceT.slice(1).forEach(function (t, i) {
    sG.append('line')
        .attr('x1', sX(traceT[i])).attr('y1', sY(traceF[i]))
        .attr('x2', sX(t)).attr('y2', sY(traceF[i + 1]))
        .attr('stroke', '#fff').attr('stroke-width', i < 4 ? 3 : 1.5)
        .attr('opacity', traceLevel[i]);
});

sG.append('path').datum(bestT)
    .attr('d', d3.line()
        .defined(function (d) { return d !== null; })
        .x(function (d) { return sX(d); })
        .y(function (d, i) { return sY(bestF[i]); }))
    .attr('fill', 'none').attr('stroke', '#00ff00').attr('stroke-width', 5)
    .attr('stroke-linecap', 'round').attr('stroke-linejoin', 'round');

function spans(t, low, high, color, sw) {
    sG.append('g').selectAll('line').data(t).enter().append('line')
        .attr('x1', function (d) { return sX(d); })
        .attr('x2', function (d) { return sX(d); })
        .attr('y1', function (d, i) { return sY(low[i]); })
        .attr('y2', function (d, i) { return sY(high[i]); })
        .attr('stroke', color).attr('stroke-width', sw).attr('stroke-linecap', 'round');
}
spans(dipT, dipLow, dipHigh, '#00ff00', 5);
spans(goodT, goodLow, goodHigh, '#00ffff', 5);
spans(elseT, elseLow, elseHigh, '#ff00ff', 5);

mirroredAxes(sG, sX, sY, timeTicks, freqTicks, d3.format(''), sW, sH);

svg.append('text').attr('transform', 'translate(19,743) rotate(-90)').attr('text-anchor', 'middle')
    .attr('font-size', 15).attr('fill', '#262626').text('Frequency (kHz)');
svg.append('text').attr('x', 565).attr('y', 894).attr('text-anchor', 'middle')
    .attr('font-size', 15).attr('fill', '#262626').text('Time (s)');

// legend
box(975, 645, 94, 55, '#fff', '#262626');
var legendY = d3.scalePoint().domain(legendNames).range([654.5, 690.5]);
legendNames.forEach(function (name, i) {
    svg.append('line').attr('x1', 980).attr('x2', 1030).attr('y1', legendY(name)).attr('y2', legendY(name))
        .attr('stroke', legendColors[i]).attr('stroke-width', 5);
    svg.append('text').attr('x', 1034).attr('y', legendY(name) + 5).attr('font-size', 13).text(name);
});
</script>
</body>
</html>
